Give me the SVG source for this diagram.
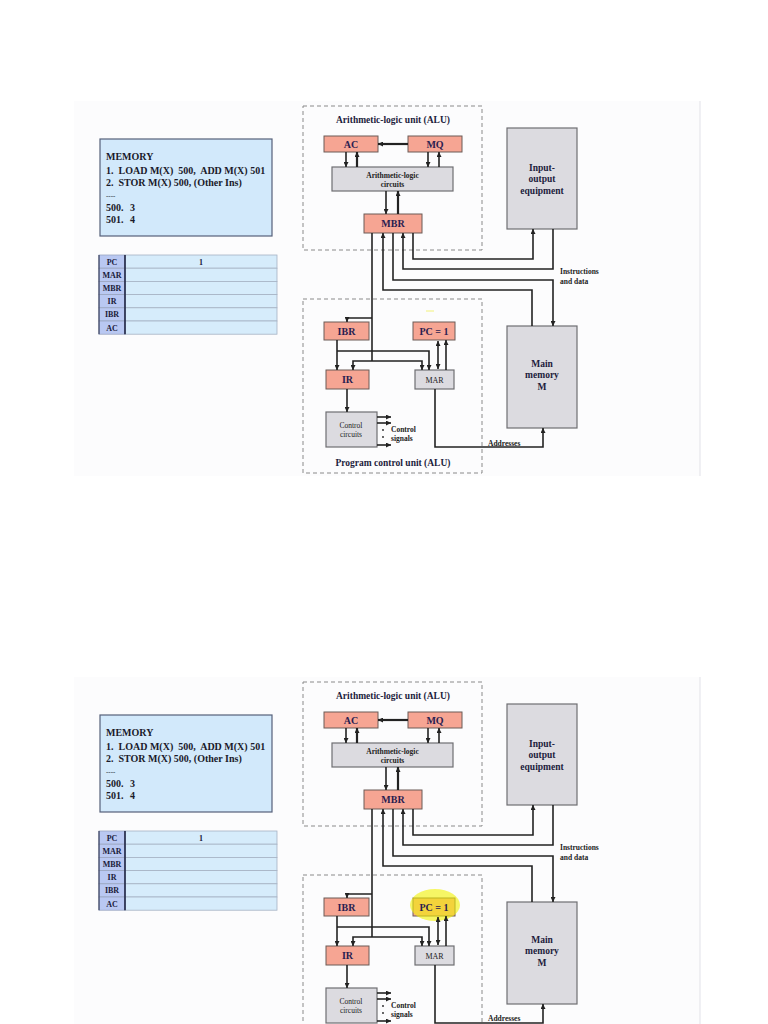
<svg xmlns="http://www.w3.org/2000/svg" width="768" height="1024" viewBox="0 0 768 1024">
<defs>
<style>
.slide{fill:#fcfcfd;stroke:none}
.edge{stroke:#e6e6ec;stroke-width:1.2}
.salmon{fill:#f6a593;stroke:#6b5b57;stroke-width:1}
.grey{fill:#dcdbe0;stroke:#6e6e72;stroke-width:1.2}
.dash{fill:none;stroke:#8a8a8a;stroke-width:1;stroke-dasharray:4 3}
.w{fill:none;stroke:#222;stroke-width:1.6}
.t{stroke-width:2.2}
.ar{marker-end:url(#ah)}
.bi{marker-start:url(#ah);marker-end:url(#ah)}
.lbl{font-family:"Liberation Serif",serif;font-weight:bold;fill:#1c1c3c}
.reg{font-family:"Liberation Serif",serif;font-weight:bold;fill:#2a2050;font-size:10px;text-anchor:middle}
.sm{font-family:"Liberation Serif",serif;font-weight:bold;fill:#222;font-size:7.5px}
.mem{fill:#d2e9fb;stroke:#55607a;stroke-width:1.2}
.mt{font-family:"Liberation Serif",serif;font-weight:bold;fill:#1a1a2a;font-size:10px}
.c1{fill:#b9c8f2;stroke:#9aa6c0;stroke-width:0.8}
.c2{fill:#d6ecfb;stroke:#a6b2c4;stroke-width:0.8}
.tt{font-family:"Liberation Serif",serif;font-weight:bold;fill:#1a1a3a;font-size:8px;text-anchor:middle}
.hl{fill:#f2f200;opacity:0.6}
</style>
<marker id="ah" viewBox="0 0 6 6" refX="6" refY="3" markerWidth="5" markerHeight="5" markerUnits="userSpaceOnUse" orient="auto-start-reverse">
<path d="M0,0 L6,3 L0,6 z" fill="#222"/>
</marker>
</defs>
<rect width="768" height="1024" fill="#ffffff"/>

<!-- ===== TOP COPY ===== -->
<g id="top">
<rect class="slide" x="74" y="101" width="626" height="375"/>
<line class="edge" x1="700" y1="101" x2="700" y2="476"/>

<g id="memory-box">
<rect class="mem" x="100" y="139" width="172" height="97"/>
<text class="mt" x="106" y="160">MEMORY</text>
<text class="mt" x="106" y="173.5" xml:space="preserve">1.  LOAD M(X)  500,  ADD M(X) 501</text>
<text class="mt" x="106" y="186" xml:space="preserve">2.  STOR M(X) 500, (Other Ins)</text>
<text class="mt" x="106" y="198" style="font-size:7px">----</text>
<text class="mt" x="106" y="211">500.</text><text class="mt" x="130" y="211">3</text>
<text class="mt" x="106" y="223">501.</text><text class="mt" x="130" y="223">4</text>
</g>

<g id="register-table">
<rect class="c1" x="99" y="255" width="26" height="13.2"/><rect class="c2" x="125" y="255" width="152" height="13.2"/>
<rect class="c1" x="99" y="268.2" width="26" height="13.2"/><rect class="c2" x="125" y="268.2" width="152" height="13.2"/>
<rect class="c1" x="99" y="281.4" width="26" height="13.2"/><rect class="c2" x="125" y="281.4" width="152" height="13.2"/>
<rect class="c1" x="99" y="294.6" width="26" height="13.2"/><rect class="c2" x="125" y="294.6" width="152" height="13.2"/>
<rect class="c1" x="99" y="307.8" width="26" height="13.2"/><rect class="c2" x="125" y="307.8" width="152" height="13.2"/>
<rect class="c1" x="99" y="321" width="26" height="13.2"/><rect class="c2" x="125" y="321" width="152" height="13.2"/>
<line x1="125" y1="255" x2="125" y2="334.2" stroke="#1e2444" stroke-width="1.6"/>
<line x1="99" y1="255" x2="99" y2="334.2" stroke="#1e2444" stroke-width="1"/>
<text class="tt" x="112" y="264.5">PC</text>
<text class="tt" x="201" y="264.5">1</text>
<text class="tt" x="112" y="277.7">MAR</text>
<text class="tt" x="112" y="290.9">MBR</text>
<text class="tt" x="112" y="304.1">IR</text>
<text class="tt" x="112" y="317.3">IBR</text>
<text class="tt" x="112" y="330.5">AC</text>
</g>

<g id="alu-frame">
<rect class="dash" x="303" y="106" width="179" height="144"/>
<text class="lbl" x="393" y="122.5" text-anchor="middle" style="font-size:9.5px">Arithmetic-logic unit (ALU)</text>
</g>
<g id="pcu-frame">
<rect class="dash" x="303" y="299" width="179" height="174"/>
<text class="lbl" x="393" y="465.5" text-anchor="middle" style="font-size:9.5px">Program control unit (ALU)</text>
</g>

<g id="ac"><rect class="salmon" x="324" y="136" width="54" height="16"/><text class="reg" x="351" y="147.5">AC</text></g>
<g id="mq"><rect class="salmon" x="408" y="136" width="54" height="16"/><text class="reg" x="435" y="147.5">MQ</text></g>
<g id="alc"><rect class="grey" x="332" y="167" width="121" height="24"/>
<text class="sm" x="392.5" y="177.5" text-anchor="middle">Arithmetic-logic</text>
<text class="sm" x="392.5" y="187" text-anchor="middle">circuits</text></g>
<g id="mbr"><rect class="salmon" x="364" y="214" width="58" height="19"/><text class="reg" x="393" y="227">MBR</text></g>
<g id="io"><rect class="grey" x="507" y="128" width="70" height="101"/>
<text class="lbl" x="542" y="170.5" text-anchor="middle" style="font-size:9.5px">Input-</text>
<text class="lbl" x="542" y="182" text-anchor="middle" style="font-size:9.5px">output</text>
<text class="lbl" x="542" y="193.5" text-anchor="middle" style="font-size:9.5px">equipment</text></g>
<g id="main-memory"><rect class="grey" x="507" y="326" width="70" height="102"/>
<text class="lbl" x="542" y="366.5" text-anchor="middle" style="font-size:9.5px">Main</text>
<text class="lbl" x="542" y="378" text-anchor="middle" style="font-size:9.5px">memory</text>
<text class="lbl" x="542" y="390" text-anchor="middle" style="font-size:9.5px">M</text></g>
<g id="ibr"><rect class="salmon" x="324" y="322" width="45" height="18"/><text class="reg" x="346.5" y="334.5">IBR</text></g>
<g id="pc"><rect class="salmon" x="413" y="322" width="42" height="18"/><text class="reg" x="434" y="334.5">PC = 1</text></g>
<g id="ir"><rect class="salmon" x="326" y="370" width="43" height="19"/><text class="reg" x="347.5" y="383">IR</text></g>
<g id="mar"><rect class="grey" x="415" y="370" width="39" height="19"/><text class="sm" x="434.5" y="382.5" text-anchor="middle" style="font-size:8px;font-weight:normal">MAR</text></g>
<g id="control"><rect class="grey" x="326" y="412" width="51" height="35"/>
<text class="sm" x="351" y="427.5" text-anchor="middle" style="font-weight:normal">Control</text>
<text class="sm" x="351" y="436.5" text-anchor="middle" style="font-weight:normal">circuits</text></g>
<g id="labels">
<text class="sm" x="560" y="274">Instructions</text>
<text class="sm" x="560" y="284">and data</text>
<text class="sm" x="391" y="432">Control</text>
<text class="sm" x="391" y="441">signals</text>
<text class="sm" x="488" y="446">Addresses</text>
</g>
<line x1="426" y1="311" x2="434" y2="311" stroke="#f2f27a" stroke-width="1"/>

<g id="connectors">
<path class="w t ar" d="M408,144 H378"/>
<path class="w ar" d="M346,152 V167"/>
<path class="w t ar" d="M357,167 V152"/>
<path class="w ar" d="M428,152 V167"/>
<path class="w ar" d="M439,167 V152"/>
<path class="w ar" d="M386,191 V214"/>
<path class="w t ar" d="M398,214 V191"/>
<path class="w ar" d="M413,233 V259 H533 V229"/>
<path class="w ar" d="M553,229 V269 H403 V233"/>
<path class="w ar" d="M393,233 V280 H553 V326"/>
<path class="w ar" d="M532,326 V290 H383 V233"/>
<path class="w" d="M372,233 V361"/>
<path class="w ar" d="M372,318 H347 V322"/>
<path class="w ar" d="M372,361 H353 V370"/>
<path class="w ar" d="M372,361 H422 V370"/>
<path class="w ar" d="M337,340 V370"/>
<path class="w ar" d="M337,351 H429 V370"/>
<path class="w bi" d="M438,341 V369"/>
<path class="w ar" d="M446,370 V340"/>
<path class="w ar" d="M347,389 V412"/>
<path class="w ar" d="M377,417 H391"/>
<path class="w ar" d="M377,423 H391"/>
<path class="w ar" d="M377,445 H391"/>
<circle cx="383" cy="430" r="0.9" fill="#222"/>
<circle cx="383" cy="437" r="0.9" fill="#222"/>
<path class="w ar" d="M435,389 V447 H543 V428"/>
</g>
</g>

<!-- ===== BOTTOM COPY ===== -->
<g id="bottom" transform="translate(0,576)">
<rect class="slide" x="74" y="101" width="626" height="375"/>
<line class="edge" x1="700" y1="101" x2="700" y2="476"/>

<g id="memory-box-b">
<rect class="mem" x="100" y="139" width="172" height="97"/>
<text class="mt" x="106" y="160">MEMORY</text>
<text class="mt" x="106" y="173.5" xml:space="preserve">1.  LOAD M(X)  500,  ADD M(X) 501</text>
<text class="mt" x="106" y="186" xml:space="preserve">2.  STOR M(X) 500, (Other Ins)</text>
<text class="mt" x="106" y="198" style="font-size:7px">----</text>
<text class="mt" x="106" y="211">500.</text><text class="mt" x="130" y="211">3</text>
<text class="mt" x="106" y="223">501.</text><text class="mt" x="130" y="223">4</text>
</g>

<g id="register-table-b">
<rect class="c1" x="99" y="255" width="26" height="13.2"/><rect class="c2" x="125" y="255" width="152" height="13.2"/>
<rect class="c1" x="99" y="268.2" width="26" height="13.2"/><rect class="c2" x="125" y="268.2" width="152" height="13.2"/>
<rect class="c1" x="99" y="281.4" width="26" height="13.2"/><rect class="c2" x="125" y="281.4" width="152" height="13.2"/>
<rect class="c1" x="99" y="294.6" width="26" height="13.2"/><rect class="c2" x="125" y="294.6" width="152" height="13.2"/>
<rect class="c1" x="99" y="307.8" width="26" height="13.2"/><rect class="c2" x="125" y="307.8" width="152" height="13.2"/>
<rect class="c1" x="99" y="321" width="26" height="13.2"/><rect class="c2" x="125" y="321" width="152" height="13.2"/>
<line x1="125" y1="255" x2="125" y2="334.2" stroke="#1e2444" stroke-width="1.6"/>
<line x1="99" y1="255" x2="99" y2="334.2" stroke="#1e2444" stroke-width="1"/>
<text class="tt" x="112" y="264.5">PC</text>
<text class="tt" x="201" y="264.5">1</text>
<text class="tt" x="112" y="277.7">MAR</text>
<text class="tt" x="112" y="290.9">MBR</text>
<text class="tt" x="112" y="304.1">IR</text>
<text class="tt" x="112" y="317.3">IBR</text>
<text class="tt" x="112" y="330.5">AC</text>
</g>

<g id="alu-frame-b">
<rect class="dash" x="303" y="106" width="179" height="144"/>
<text class="lbl" x="393" y="122.5" text-anchor="middle" style="font-size:9.5px">Arithmetic-logic unit (ALU)</text>
</g>
<g id="pcu-frame-b">
<rect class="dash" x="303" y="299" width="179" height="174"/>
</g>

<g id="ac-b"><rect class="salmon" x="324" y="136" width="54" height="16"/><text class="reg" x="351" y="147.5">AC</text></g>
<g id="mq-b"><rect class="salmon" x="408" y="136" width="54" height="16"/><text class="reg" x="435" y="147.5">MQ</text></g>
<g id="alc-b"><rect class="grey" x="332" y="167" width="121" height="24"/>
<text class="sm" x="392.5" y="177.5" text-anchor="middle">Arithmetic-logic</text>
<text class="sm" x="392.5" y="187" text-anchor="middle">circuits</text></g>
<g id="mbr-b"><rect class="salmon" x="364" y="214" width="58" height="19"/><text class="reg" x="393" y="227">MBR</text></g>
<g id="io-b"><rect class="grey" x="507" y="128" width="70" height="101"/>
<text class="lbl" x="542" y="170.5" text-anchor="middle" style="font-size:9.5px">Input-</text>
<text class="lbl" x="542" y="182" text-anchor="middle" style="font-size:9.5px">output</text>
<text class="lbl" x="542" y="193.5" text-anchor="middle" style="font-size:9.5px">equipment</text></g>
<g id="main-memory-b"><rect class="grey" x="507" y="326" width="70" height="102"/>
<text class="lbl" x="542" y="366.5" text-anchor="middle" style="font-size:9.5px">Main</text>
<text class="lbl" x="542" y="378" text-anchor="middle" style="font-size:9.5px">memory</text>
<text class="lbl" x="542" y="390" text-anchor="middle" style="font-size:9.5px">M</text></g>
<g id="ibr-b"><rect class="salmon" x="324" y="322" width="45" height="18"/><text class="reg" x="346.5" y="334.5">IBR</text></g>
<g id="pc-b"><rect class="salmon" x="413" y="322" width="42" height="18"/>
<ellipse class="hl" cx="435" cy="329" rx="25" ry="16"/>
<text class="reg" x="434" y="334.5">PC = 1</text></g>
<g id="ir-b"><rect class="salmon" x="326" y="370" width="43" height="19"/><text class="reg" x="347.5" y="383">IR</text></g>
<g id="mar-b"><rect class="grey" x="415" y="370" width="39" height="19"/><text class="sm" x="434.5" y="382.5" text-anchor="middle" style="font-size:8px;font-weight:normal">MAR</text></g>
<g id="control-b"><rect class="grey" x="326" y="412" width="51" height="35"/>
<text class="sm" x="351" y="427.5" text-anchor="middle" style="font-weight:normal">Control</text>
<text class="sm" x="351" y="436.5" text-anchor="middle" style="font-weight:normal">circuits</text></g>
<g id="labels-b">
<text class="sm" x="560" y="274">Instructions</text>
<text class="sm" x="560" y="284">and data</text>
<text class="sm" x="391" y="432">Control</text>
<text class="sm" x="391" y="441">signals</text>
<text class="sm" x="488" y="445">Addresses</text>
</g>

<g id="connectors-b">
<path class="w t ar" d="M408,144 H378"/>
<path class="w ar" d="M346,152 V167"/>
<path class="w t ar" d="M357,167 V152"/>
<path class="w ar" d="M428,152 V167"/>
<path class="w ar" d="M439,167 V152"/>
<path class="w ar" d="M386,191 V214"/>
<path class="w t ar" d="M398,214 V191"/>
<path class="w ar" d="M413,233 V259 H533 V229"/>
<path class="w ar" d="M553,229 V269 H403 V233"/>
<path class="w ar" d="M393,233 V280 H553 V326"/>
<path class="w ar" d="M532,326 V290 H383 V233"/>
<path class="w" d="M372,233 V361"/>
<path class="w ar" d="M372,318 H347 V322"/>
<path class="w ar" d="M372,361 H353 V370"/>
<path class="w ar" d="M372,361 H422 V370"/>
<path class="w ar" d="M337,340 V370"/>
<path class="w ar" d="M337,351 H429 V370"/>
<path class="w bi" d="M438,341 V369"/>
<path class="w ar" d="M446,370 V340"/>
<path class="w ar" d="M347,389 V412"/>
<path class="w ar" d="M377,417 H391"/>
<path class="w ar" d="M377,423 H391"/>
<path class="w ar" d="M377,445 H391"/>
<circle cx="383" cy="430" r="0.9" fill="#222"/>
<circle cx="383" cy="437" r="0.9" fill="#222"/>
<path class="w ar" d="M435,389 V447 H543 V428"/>
</g>
</g>
</svg>
